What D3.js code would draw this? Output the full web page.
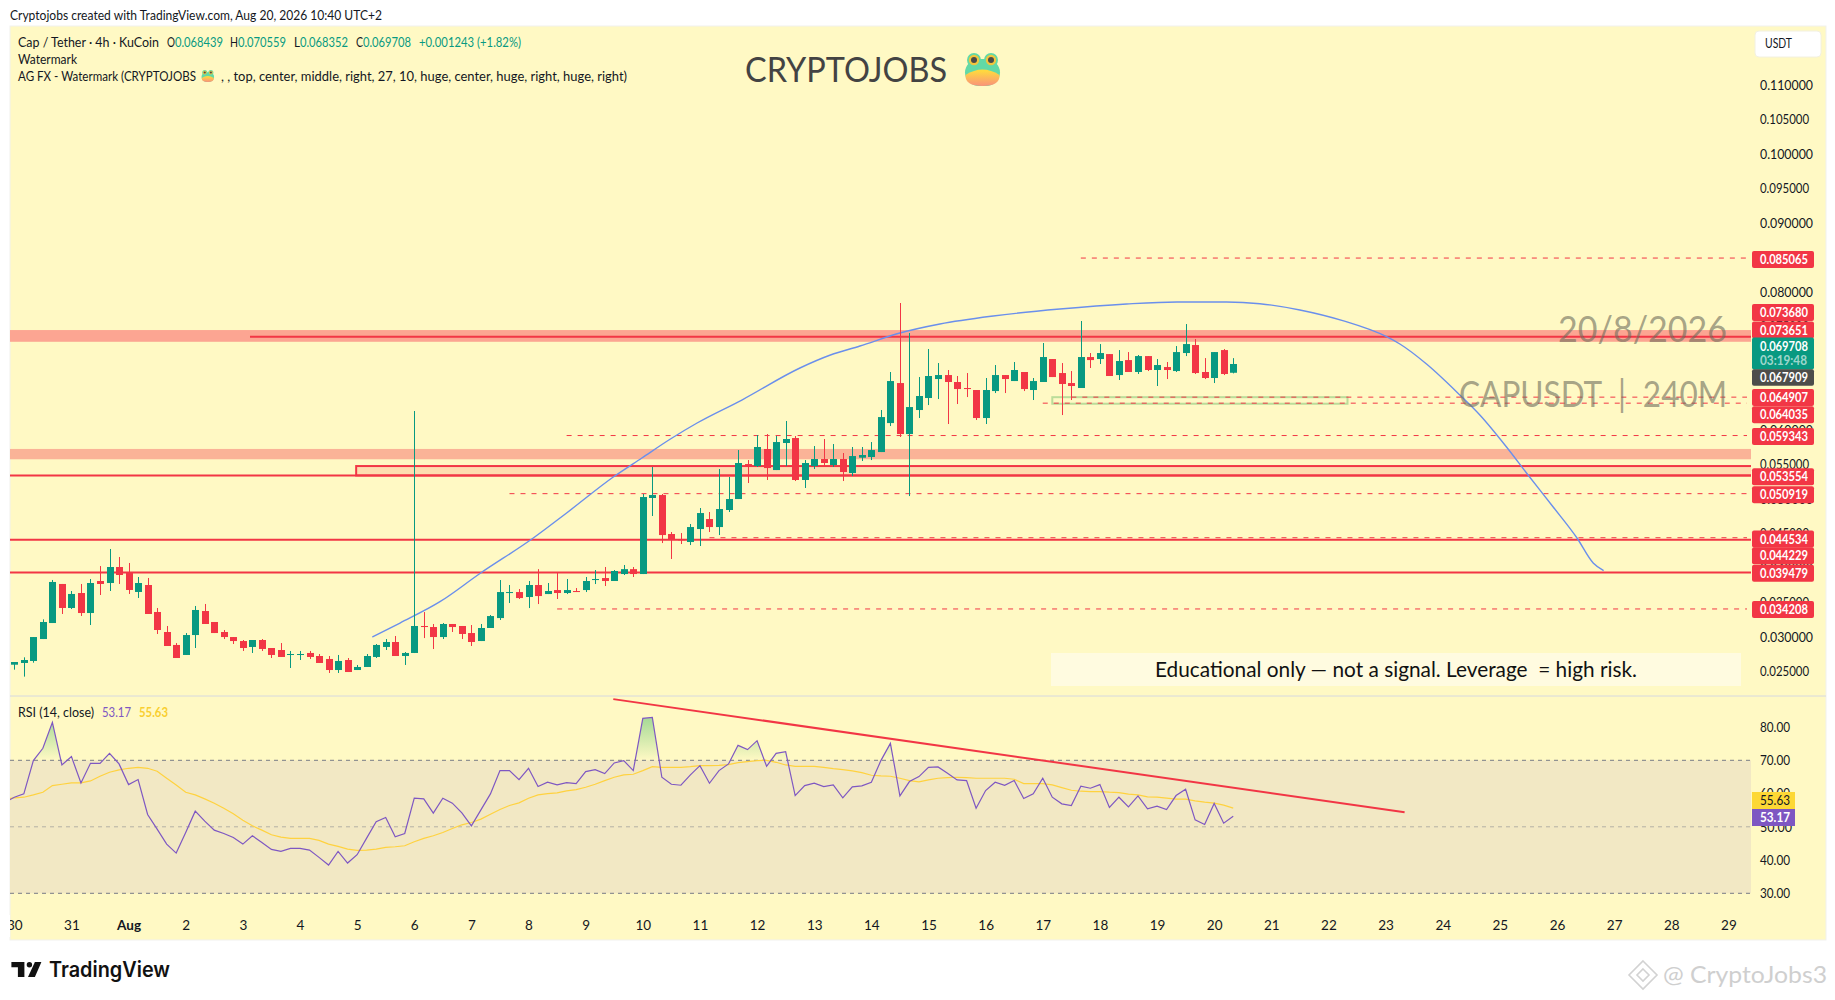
<!DOCTYPE html>
<html><head><meta charset="utf-8">
<script src="https://cdnjs.cloudflare.com/ajax/libs/d3/7.8.5/d3.min.js"></script>
<style>html,body{margin:0;padding:0;background:#fff}svg{display:block}text{font-family:Lato,"Noto Sans",sans-serif;white-space:pre}</style>
</head><body><div id="chart"></div>
<script>
// ---------- values (one bar every 4h, first bar Jul 30 00:00) ----------
const opens=[.02613,.02638,.02667,.02985,.03217,.03783,.03435,.03652,.03362,.03826,.03797,.04029,.03942,.03667,.03768,.03377,.03087,.02899,.02754,.03043,.03391,.03232,.03087,.03014,.02956,.02870,.02971,.02855,.02826,.02754,.02754,.02783,.02739,.02696,.02536,.02681,.02536,.02580,.02725,.02870,.02942,.02739,.02783,.03174,.03159,.03014,.03203,.03174,.03072,.02956,.03145,.03289,.03652,.03666,.03594,.03768,.03637,.03695,.03652,.03681,.03695,.03840,.03869,.03826,.03927,.03998,.03927,.05029,.05072,.04507,.04430,.04391,.04579,.04724,.04608,.04855,.05014,.05521,.05492,.05739,.05434,.05826,.05898,.05290,.05492,.05594,.05507,.05594,.05391,.05613,.05623,.05695,.06115,.06695,.05956,.06304,.06478,.06753,.06811,.06710,.06623,.06594,.06188,.06579,.06811,.06724,.06855,.06594,.06710,.07043,.06840,.06695,.06623,.07072,.07043,.07115,.06811,.07028,.06855,.07086,.06884,.06927,.06869,.07130,.07246,.06855,.06768,.07173,.06844];
const highs=[.02652,.02720,.03014,.03270,.03841,.03783,.03681,.03783,.03855,.04043,.04290,.04174,.04087,.03884,.03870,.03435,.03174,.02927,.03072,.03464,.03493,.03232,.03116,.03014,.02971,.02971,.02985,.02855,.02927,.02812,.02812,.02812,.02768,.02739,.02754,.02710,.02609,.02768,.02913,.02985,.03029,.02797,.06290,.03376,.03203,.03217,.03203,.03174,.03188,.03203,.03333,.03840,.03768,.03710,.03826,.03998,.03797,.03942,.03855,.03724,.03884,.03985,.04029,.03985,.04058,.04029,.05087,.05478,.05087,.04536,.04521,.04652,.04884,.04826,.05449,.05333,.05724,.05579,.05942,.05956,.05927,.06145,.05927,.05579,.05782,.05884,.05811,.05681,.05768,.05768,.05840,.06304,.06855,.07855,.07420,.06782,.07188,.06985,.06884,.06797,.06840,.06594,.06768,.06956,.06811,.07000,.06855,.06768,.07275,.07043,.06985,.06869,.07594,.07130,.07260,.07115,.07173,.07144,.07101,.07086,.07043,.07000,.07231,.07550,.07333,.07057,.07144,.07188,.07056];
const lows=[.02541,.02440,.02642,.02985,.03217,.03348,.03420,.03319,.03188,.03623,.03681,.03783,.03638,.03580,.03348,.03058,.02884,.02710,.02754,.02855,.03203,.03072,.02985,.02913,.02812,.02783,.02812,.02710,.02725,.02565,.02681,.02696,.02638,.02493,.02493,.02507,.02536,.02580,.02710,.02826,.02739,.02609,.02782,.02999,.02840,.02985,.03087,.02985,.02884,.02956,.03145,.03261,.03507,.03565,.03434,.03492,.03637,.03565,.03637,.03666,.03666,.03782,.03753,.03826,.03913,.03884,.03927,.04768,.04376,.04145,.04362,.04347,.04333,.04536,.04492,.04826,.05014,.05246,.05478,.05290,.05434,.05492,.05275,.05174,.05449,.05492,.05478,.05275,.05347,.05565,.05579,.05695,.06072,.05913,.05057,.06188,.06376,.06463,.06101,.06391,.06492,.06159,.06101,.06550,.06550,.06724,.06579,.06449,.06710,.06782,.06231,.06449,.06623,.06913,.06971,.06797,.06739,.06855,.06826,.06869,.06652,.06753,.06855,.07086,.06826,.06753,.06695,.06811,.06835];
const closes=[.02652,.02681,.03014,.03232,.03812,.03435,.03638,.03362,.03797,.03783,.04029,.03913,.03696,.03797,.03348,.03116,.02884,.02710,.03043,.03406,.03203,.03072,.03014,.02956,.02855,.02971,.02841,.02754,.02725,.02768,.02768,.02725,.02638,.02536,.02667,.02507,.02580,.02739,.02899,.02942,.02739,.02783,.03174,.03159,.03014,.03203,.03159,.03058,.02942,.03145,.03318,.03666,.03666,.03579,.03768,.03608,.03681,.03652,.03695,.03666,.03826,.03855,.03826,.03971,.03998,.03927,.05043,.05072,.04492,.04420,.04415,.04608,.04811,.04608,.04869,.05014,.05536,.05492,.05768,.05463,.05840,.05884,.05290,.05536,.05594,.05536,.05594,.05406,.05637,.05652,.05724,.06202,.06724,.05956,.06347,.06507,.06797,.06811,.06710,.06608,.06608,.06188,.06594,.06811,.06753,.06884,.06608,.06724,.07072,.06782,.06681,.06652,.07072,.07028,.07130,.06797,.07014,.06855,.07086,.06884,.06956,.06884,.07144,.07260,.06840,.06768,.07144,.06826,.06971];

const rsiValues=[58.9,59.9,69.9,73.6,81.4,68.6,71.1,63.2,69.1,69.1,72.1,68.9,62.7,64.2,53.7,49.3,44.8,42.1,48.3,54.7,51.7,49.0,48.0,46.8,44.8,47.3,45.3,43.2,42.6,43.5,43.5,43.0,40.8,38.5,42.6,39.1,41.6,46.6,51.5,52.8,47.0,48.0,58.6,58.4,54.1,58.6,57.1,54.2,50.3,55.1,59.9,66.9,66.9,64.2,67.6,62.1,63.4,62.6,63.3,63.0,66.6,67.2,66.0,69.2,69.9,66.9,82.6,82.9,64.9,62.8,62.5,65.6,68.4,63.1,66.9,68.9,74.5,73.2,75.9,68.2,72.1,72.6,59.4,62.4,63.1,62.1,62.6,58.7,62.0,62.3,63.4,69.9,75.1,59.3,63.6,65.1,67.9,68.0,66.1,64.1,63.9,55.6,60.9,63.4,62.5,63.9,58.5,59.9,64.6,58.9,56.9,56.4,62.2,61.6,62.7,55.8,58.9,56.0,59.3,55.4,56.2,55.2,59.4,61.3,52.1,50.7,57.0,51.1,53.17];
const rsiMa=[58.7,58.9,59.6,60.4,62.4,62.8,63.2,63.2,63.8,65.2,66.4,67.1,67.6,67.9,67.6,66.7,64.6,62.6,60.4,59.6,58.4,57.1,55.6,53.9,52.0,50.3,49.0,47.6,46.9,46.5,46.5,46.5,45.9,44.8,44.1,43.3,42.9,43.0,43.3,43.8,44.0,44.3,45.5,46.5,47.3,48.3,49.5,50.6,51.3,52.3,53.8,55.2,56.4,57.2,58.6,59.6,60.0,60.2,60.8,61.2,61.9,62.8,63.9,64.9,65.6,65.8,66.9,68.1,67.9,67.9,67.9,68.1,68.4,68.4,68.5,68.7,69.3,69.6,69.9,70.0,69.4,68.6,68.2,68.2,68.2,67.9,67.5,67.2,66.8,66.3,65.5,65.3,65.2,64.6,63.9,63.5,64.1,64.6,64.8,64.9,64.8,64.6,64.6,64.6,64.6,64.3,63.0,63.0,63.0,62.6,61.8,61.0,60.7,60.6,60.6,60.4,60.3,59.8,59.6,59.0,58.9,58.6,58.3,58.3,57.8,57.4,57.1,56.5,55.63];
const rsiBeforeFirst=[57.3,58.4]; // RSI and its average on the bar just left of the pane

// rounded curve: [bar, price]
const curveBars=[37.6,40.5,44.7,48.9,54.5,58.0,62.9,65.9,68.9,71.7,76.4,82.5,85.7,88.8,93.0,97.2,102.8,109.8,116.8,122.1,127.3,130.8,135.0,139.5,144.1,145.5,148.3,151.8,153.9,156.7,158.8,161.6,164.1,165.8,166.9];
const curvePrices=[.03014,.03217,.03526,.03935,.04449,.04812,.05333,.05609,.05884,.06116,.06449,.06913,.07101,.07232,.0742,.07551,.07667,.07768,.07841,.0787,.0787,.07845,.07754,.07599,.07367,.07261,.06971,.06522,.06232,.05768,.05391,.04899,.04449,.04087,.03975];

// horizontal drawings
const zoneTops=[.07463,.0574];
const zoneBottoms=[.07293,.0559];
const solidLevels=[.073651,.053554,.044229,.039479];
const solidStartBars=[24.75,-2,-2,-2];
const dashedLevels=[.085065,.064907,.064035,.059343,.050919,.044534,.034208];
const dashedStartBars=[112,111,108,58,52,73,57];
const rangeBox=[35.9,.05492,.053554];          // start bar, top, bottom
const greenBox=[109,.0649,.06395,140];         // start bar, top, bottom, end bar
const trendBars=[62.9,146.0];
const trendRsi=[88.4,54.4];

// axes
const priceTicks=[.11,.105,.1,.095,.09,.085,.08,.075,.07,.065,.06,.055,.05,.045,.04,.035,.03,.025];
const rsiTicks=[80,70,60,50,40,30];
const rsiLevels=[70,50,30];
const dayBars=[0,6,12,18,24,30,36,42,48,54,60,66,72,78,84,90,96,102,108,114,120,126,132,138,144,150,156,162,168,174,180];
const dayLabels=["30","31","Aug","2","3","4","5","6","7","8","9","10","11","12","13","14","15","16","17","18","19","20","21","22","23","24","25","26","27","28","29"];
const badgeValues=["0.085065","0.073680","0.073651","0.064907","0.064035","0.059343","0.053554","0.050919","0.044534","0.044229","0.039479","0.034208"];
const badgeCentres=[259.5,312.5,330,397.5,414.7,436.5,476.7,494.7,539,555.7,573.3,609.5];

// ---------- layout ----------
const W=1835,H=1000,L=10,R=1826,PR=1751,T=26,SEP=696,B=940;
const C={up:"#089981",dn:"#F23645",bg:"#FFF9C4",band:"#F2E8C4",ink:"#131722"};
const svg=d3.select("#chart").append("svg").attr("width",W).attr("height",H);
const defs=svg.append("defs");
svg.append("rect").attr("width",W).attr("height",H).attr("fill","#fff");
svg.append("rect").attr("x",L).attr("y",T).attr("width",R-L).attr("height",B-T).attr("fill",C.bg).attr("stroke","#f1f1ee");

const x=d3.scaleLinear().domain([0,180]).range([14.3,1728.4]);
const y=d3.scaleLinear().domain([.08,.03]).range([293,638]);
const yr=d3.scaleLinear().domain([70,30]).range([760.3,893.3]);

defs.append("clipPath").attr("id","pl").append("rect").attr("x",L).attr("y",T).attr("width",PR-L).attr("height",SEP-T);
defs.append("clipPath").attr("id","rp").append("rect").attr("x",L).attr("y",SEP).attr("width",PR-L).attr("height",B-SEP);
defs.append("clipPath").attr("id","ob").append("rect").attr("x",L).attr("y",SEP).attr("width",PR-L).attr("height",yr(70)-SEP);
const g0=defs.append("linearGradient").attr("id","obg").attr("gradientUnits","userSpaceOnUse").attr("x1",0).attr("x2",0).attr("y1",yr(82)).attr("y2",yr(70));
g0.append("stop").attr("offset",0).attr("stop-color","#8fd28a").attr("stop-opacity",.75);
g0.append("stop").attr("offset",1).attr("stop-color","#8fd28a").attr("stop-opacity",0);

function txt(sel,px,py,s,o={}){
  const t=sel.append("text").attr("x",px).attr("y",py).attr("dy","0.35em").text(s)
    .attr("font-size",o.size||12).attr("fill",o.fill||C.ink).attr("text-anchor",o.anchor||"start");
  if(o.len)t.attr("textLength",o.len).attr("lengthAdjust","spacingAndGlyphs");
  if(o.weight)t.attr("font-weight",o.weight);
  if(o.family)t.style("font-family",o.family);
  return t;
}

// ---------- main pane ----------
const main=svg.append("g").attr("clip-path","url(#pl)");
main.selectAll(".zone").data(zoneTops).join("rect").attr("x",L).attr("width",PR-L)
  .attr("y",d=>y(d)).attr("height",(d,i)=>y(zoneBottoms[i])-y(d)).attr("fill",(d,i)=>i?"#FAB397":"#FCA592");
main.append("rect").attr("x",x(rangeBox[0])).attr("y",y(rangeBox[1])).attr("width",PR+4-x(rangeBox[0]))
  .attr("height",y(rangeBox[2])-y(rangeBox[1])).attr("fill","#FEDDB0").attr("stroke",C.dn).attr("stroke-width",2);
main.append("rect").attr("x",x(greenBox[0])).attr("y",y(greenBox[1])).attr("width",x(greenBox[3])-x(greenBox[0]))
  .attr("height",y(greenBox[2])-y(greenBox[1])).attr("fill","none").attr("stroke","#BBDD9A").attr("stroke-width",2);
main.selectAll(".sl").data(solidLevels).join("line").attr("x1",(d,i)=>x(solidStartBars[i])).attr("x2",PR)
  .attr("y1",d=>y(d)).attr("y2",d=>y(d)).attr("stroke",C.dn).attr("stroke-width",2);
main.selectAll(".dl").data(dashedLevels).join("line").attr("x1",(d,i)=>x(dashedStartBars[i])).attr("x2",PR-4)
  .attr("y1",d=>y(d)).attr("y2",d=>y(d)).attr("stroke",C.dn).attr("stroke-width",1).attr("stroke-dasharray","5 6");

main.append("path").attr("fill","none").attr("stroke","#6A8FEC").attr("stroke-width",1.4)
  .attr("d",d3.line().x((d,i)=>x(d)).y((d,i)=>y(curvePrices[i])).curve(d3.curveMonotoneX)(curveBars));

const candles=main.selectAll(".c").data(opens).join("g");
candles.append("line").attr("x1",(d,i)=>Math.round(x(i))+.5).attr("x2",(d,i)=>Math.round(x(i))+.5)
  .attr("y1",(d,i)=>y(highs[i])).attr("y2",(d,i)=>y(lows[i])).attr("stroke",(d,i)=>closes[i]>=d?C.up:C.dn).attr("stroke-width",1);
candles.append("rect").attr("x",(d,i)=>Math.round(x(i))-3).attr("width",7)
  .attr("y",(d,i)=>y(Math.max(d,closes[i]))).attr("height",(d,i)=>Math.max(1,Math.abs(y(d)-y(closes[i]))))
  .attr("fill",(d,i)=>closes[i]>=d?C.up:C.dn);

// watermark and note
const grey="rgba(110,108,92,0.62)";
txt(svg,1727,329.5,"20/8/2026",{size:36,fill:grey,anchor:"end",len:169});
txt(svg,1727,394.5,"CAPUSDT | 240M",{size:36,fill:grey,anchor:"end",len:268}).style("word-spacing","10px");
svg.append("rect").attr("x",1051).attr("y",653).attr("width",690).attr("height",33).attr("fill","#FFFBE0");
txt(svg,1155,670,"Educational only — not a signal. Leverage  = high risk.",{size:21,fill:"#111",len:482});
txt(svg,745,70,"CRYPTOJOBS",{size:35,fill:"#434343",len:202});

function frog(px,py,s){
  const g=svg.append("g").attr("transform",`translate(${px},${py}) scale(${s})`);
  const id="m"+Math.round(px);
  const lg=defs.append("linearGradient").attr("id",id).attr("x1",0).attr("x2",0).attr("y1",0).attr("y2",1);
  lg.append("stop").attr("offset",.1).attr("stop-color","#FFD83F");
  lg.append("stop").attr("offset",.95).attr("stop-color","#FA9677");
  g.append("circle").attr("cx",9).attr("cy",7).attr("r",7).attr("fill","#62D9A6");
  g.append("circle").attr("cx",26).attr("cy",7).attr("r",7).attr("fill","#62D9A6");
  g.append("rect").attr("x",0).attr("y",6).attr("width",35).attr("height",27).attr("rx",14).attr("fill","#62D9A6");
  [9,26].forEach(cx=>{
    g.append("circle").attr("cx",cx).attr("cy",7).attr("r",5.2).attr("fill","#F2C53D");
    g.append("circle").attr("cx",cx).attr("cy",7).attr("r",3).attr("fill","#4A4A48");
  });
  g.append("path").attr("d","M0.5,22 Q17.5,11 34.5,22 Q35,33 17.5,33 Q0,33 .5,22Z").attr("fill",`url(#${id})`);
}
frog(965,53,1);

// ---------- price axis ----------
const yAxis=svg.append("g").attr("transform","translate(1760,-1)")
  .call(d3.axisRight(y).tickValues(priceTicks).tickSize(0).tickPadding(0).tickFormat(d3.format(".6f")));
yAxis.select(".domain").remove();
yAxis.selectAll("text").attr("fill",C.ink).style("font-family","Lato,sans-serif")
  .attr("font-size",d=>Math.round(d*1e5)%1000===0?14:13)
  .attr("textLength",d=>Math.round(d*1e5)%1000===0?53:49).attr("lengthAdjust","spacingAndGlyphs");

const badge=(cy,h,fill)=>svg.append("rect").attr("x",1752).attr("y",cy-h/2).attr("width",62).attr("height",h).attr("rx",2).attr("fill",fill);
badgeValues.forEach((v,i)=>{
  badge(badgeCentres[i],17,C.dn);
  txt(svg,1760,badgeCentres[i],v,{size:13.5,fill:"#fff",len:48,weight:700});
});
badge(353.5,32,C.up);
txt(svg,1760,346.5,"0.069708",{size:13.5,fill:"#fff",len:48,weight:700});
txt(svg,1760,360.5,"03:19:48",{size:13,fill:"rgba(255,255,255,.62)",len:47,weight:700});
badge(377.5,16.5,"#4d4d4b");
txt(svg,1760,377.5,"0.067909",{size:13.5,fill:"#fff",len:48,weight:700});

svg.append("rect").attr("x",1755).attr("y",31).attr("width",66).attr("height",26).attr("rx",4).attr("fill","#fff").attr("stroke","#f2f0e0");
txt(svg,1765,44,"USDT",{size:12.5,len:27});

// ---------- legend ----------
txt(svg,10,15,"Cryptojobs created with TradingView.com, Aug 20, 2026 10:40 UTC+2",{size:13,len:372});
txt(svg,18,42,"Cap / Tether · 4h · KuCoin",{size:13,len:141});
[["O",167,8],["H",230,8],["L",294,6],["C",356,7]].forEach(d=>txt(svg,d[1],42,d[0],{size:13,len:d[2]}));
[["0.068439",175],["0.070559",238],["0.068352",300],["0.069708",363]].forEach(d=>txt(svg,d[1],42,d[0],{size:13,fill:C.up,len:48}));
txt(svg,419,42,"+0.001243 (+1.82%)",{size:13,fill:C.up,len:102});
txt(svg,18,59,"Watermark",{size:13,len:59});
txt(svg,18,76,"AG FX - Watermark (CRYPTOJOBS",{size:13,len:178});
frog(201.5,70,.36);
txt(svg,221,76,", , top, center, middle, right, 27, 10, huge, center, huge, right, huge, right)",{size:13,len:406});

// ---------- RSI pane ----------
svg.append("line").attr("x1",L).attr("x2",R).attr("y1",SEP).attr("y2",SEP).attr("stroke","#D6D8DF").attr("stroke-width",1);
const rp=svg.append("g").attr("clip-path","url(#rp)");
rp.append("rect").attr("x",L).attr("width",PR-L).attr("y",yr(70)).attr("height",yr(30)-yr(70)).attr("fill",C.band);
rp.selectAll(".lv").data(rsiLevels).join("line").attr("x1",L).attr("x2",PR).attr("y1",d=>yr(d)).attr("y2",d=>yr(d))
  .attr("stroke","#787B86").attr("stroke-dasharray","4 4").attr("stroke-opacity",d=>d===50?.5:1);
const rsiSeries=[rsiBeforeFirst[0],...rsiValues], maSeries=[rsiBeforeFirst[1],...rsiMa];
rp.append("path").attr("clip-path","url(#ob)").attr("fill","url(#obg)")
  .attr("d",d3.area().x((d,i)=>x(i-1)).y0(yr(70)).y1(d=>yr(d))(rsiSeries));
rp.append("path").attr("fill","none").attr("stroke","#FFD23F").attr("stroke-width",1.2)
  .attr("d",d3.line().x((d,i)=>x(i-1)).y(d=>yr(d))(maSeries));
rp.append("path").attr("fill","none").attr("stroke","#7E57C2").attr("stroke-width",1.2)
  .attr("d",d3.line().x((d,i)=>x(i-1)).y(d=>yr(d))(rsiSeries));
rp.append("line").attr("x1",x(trendBars[0])).attr("x2",x(trendBars[1])).attr("y1",yr(trendRsi[0])).attr("y2",yr(trendRsi[1]))
  .attr("stroke",C.dn).attr("stroke-width",2);

const rAxis=svg.append("g").attr("transform","translate(1760,0)")
  .call(d3.axisRight(yr).tickValues(rsiTicks).tickSize(0).tickPadding(0).tickFormat(d3.format(".2f")));
rAxis.select(".domain").remove();
rAxis.selectAll("text").attr("fill",C.ink).attr("font-size",13.5).style("font-family","Lato,sans-serif")
  .attr("textLength",d=>d===50?32:30).attr("lengthAdjust","spacingAndGlyphs");
svg.append("rect").attr("x",1752).attr("y",792).attr("width",43).attr("height",17).attr("fill","#FDD835");
svg.append("rect").attr("x",1752).attr("y",809).attr("width",43).attr("height",17).attr("fill","#7E57C2");
txt(svg,1760,800.5,"55.63",{size:13.5,fill:"#131722",len:30});
txt(svg,1760,817.5,"53.17",{size:13.5,fill:"#fff",len:30,weight:700});

txt(svg,18,712,"RSI (14, close)",{size:13,len:76});
txt(svg,102,712,"53.17",{size:13,fill:"#7E57C2",len:29});
txt(svg,139,712,"55.63",{size:13,fill:"#F9CF30",len:29,weight:700});

// ---------- time axis ----------
const xAxis=svg.append("g").attr("transform","translate(0,925)")
  .call(d3.axisBottom(x).tickValues(dayBars).tickSize(0).tickPadding(0).tickFormat((d,i)=>dayLabels[i]));
xAxis.select(".domain").remove();
xAxis.selectAll("text").attr("fill",C.ink).attr("dy","0.35em").attr("font-size",13.5).style("font-family","Lato,sans-serif")
  .attr("font-weight",(d,i)=>dayLabels[i]==="Aug"?700:400);
svg.append("rect").attr("x",0).attr("y",915).attr("width",L).attr("height",22).attr("fill","#fff");

// ---------- footer ----------
const logo=svg.append("g").attr("transform","translate(11.4,962)").attr("fill","#111");
logo.append("path").attr("d","M0,0H13V15H6.5V5.2H0Z");
logo.append("circle").attr("cx",18).attr("cy",2.7).attr("r",2.7);
logo.append("path").attr("d","M23.5,0H30L23.5,15H16.6Z");
txt(svg,49,970,"TradingView",{size:21,fill:"#111",len:121,weight:600,family:"Inter,Roboto,sans-serif"});

const wm=svg.append("g").attr("transform","translate(1643,975)").attr("fill","none").attr("stroke","#d2d2d2").attr("stroke-width",1.6);
wm.append("path").attr("d","M0,-14L14,0L0,14L-14,0Z");
wm.append("path").attr("d","M0,-6L6,0L0,6L-6,0Z");
txt(svg,1663,975,"@ CryptoJobs3",{size:24,fill:"#cfcfcf",len:164});
</script></body></html>
